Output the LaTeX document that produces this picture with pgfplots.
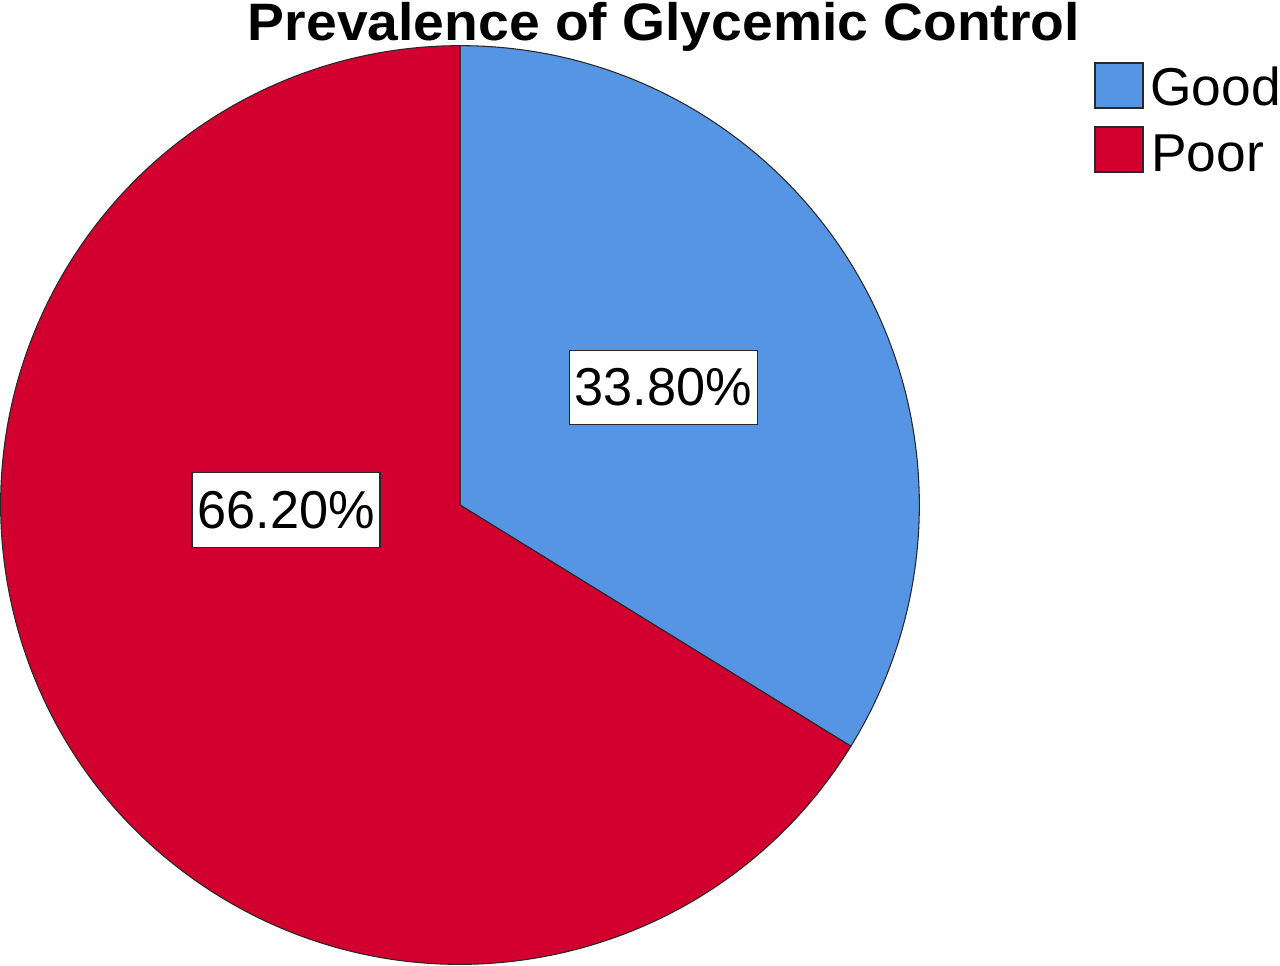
\documentclass[border=0pt]{standalone}
\usepackage{pgfplots}
\usepackage{pgfplotstable}
\pgfplotsset{compat=1.18}
\usepackage{fontspec}
\setmainfont{Liberation Sans}
\usepackage{graphicx}
\definecolor{cgood}{RGB}{85,149,228}
\definecolor{cpoor}{RGB}{210,0,46}
\definecolor{edge}{RGB}{40,40,40}
\pgfplotstableread{
label pct
Good 33.8
Poor 66.2
}\piedata
\begin{document}
\begin{tikzpicture}
\pgfplotstablegetelem{0}{pct}\of\piedata \let\pgood\pgfplotsretval
\pgfplotstablegetelem{1}{pct}\of\piedata \let\ppoor\pgfplotsretval
\pgfmathsetmacro{\aend}{90-3.6*\pgood}
\pgfmathsetmacro{\afin}{\aend-3.6*\ppoor}
\begin{axis}[
  at={(0,0)}, anchor=origin,
  width=960pt, height=723.75pt, scale only axis,
  xmin=0, xmax=1280, ymin=0, ymax=965,
  hide axis, clip=false,
]
\coordinate (O) at (axis cs:0,0);
\coordinate (E) at (axis cs:1280,965);
% pie slices
\filldraw[fill=cgood, draw=edge, line width=0.8pt, line join=round]
  (axis cs:460,460) -- ++(90:344.5pt) arc[start angle=90, end angle=\aend, radius=344.5pt] -- cycle;
\filldraw[fill=cpoor, draw=edge, line width=0.8pt, line join=round]
  (axis cs:460,460) -- ++(\aend:344.5pt) arc[start angle=\aend, end angle=\afin, radius=344.5pt] -- cycle;
% slice labels
\node[fill=white, draw=edge, line width=0.8pt, inner xsep=4pt, minimum height=56pt, font=\fontsize{40}{44}\selectfont]
  at (axis cs:663.5,577.5) {\resizebox{133pt}{\height}{33.80\%}};
\node[fill=white, draw=edge, line width=0.8pt, inner xsep=4pt, minimum height=56pt, font=\fontsize{40}{44}\selectfont]
  at (axis cs:286,455) {\resizebox{133pt}{\height}{66.20\%}};
% title
\node[anchor=base, inner sep=0pt, font=\bfseries\fontsize{39.5}{44}\selectfont] at (axis cs:664,924)
  {\resizebox{624pt}{\height}{Prevalence of Glycemic Control}};
% legend
\filldraw[fill=cgood, draw=edge, line width=0.8pt] (axis cs:1095,857) rectangle (axis cs:1143,902);
\filldraw[fill=cpoor, draw=edge, line width=0.8pt] (axis cs:1095,793) rectangle (axis cs:1143,838);
\node[anchor=base west, inner sep=0pt, font=\fontsize{40}{44}\selectfont] at (axis cs:1150,859) {Good};
\node[anchor=base west, inner sep=0pt, font=\fontsize{40}{44}\selectfont] at (axis cs:1151,793) {Poor};
\end{axis}
\pgfresetboundingbox
\path[use as bounding box] (O) rectangle (E);
\end{tikzpicture}
\end{document}
